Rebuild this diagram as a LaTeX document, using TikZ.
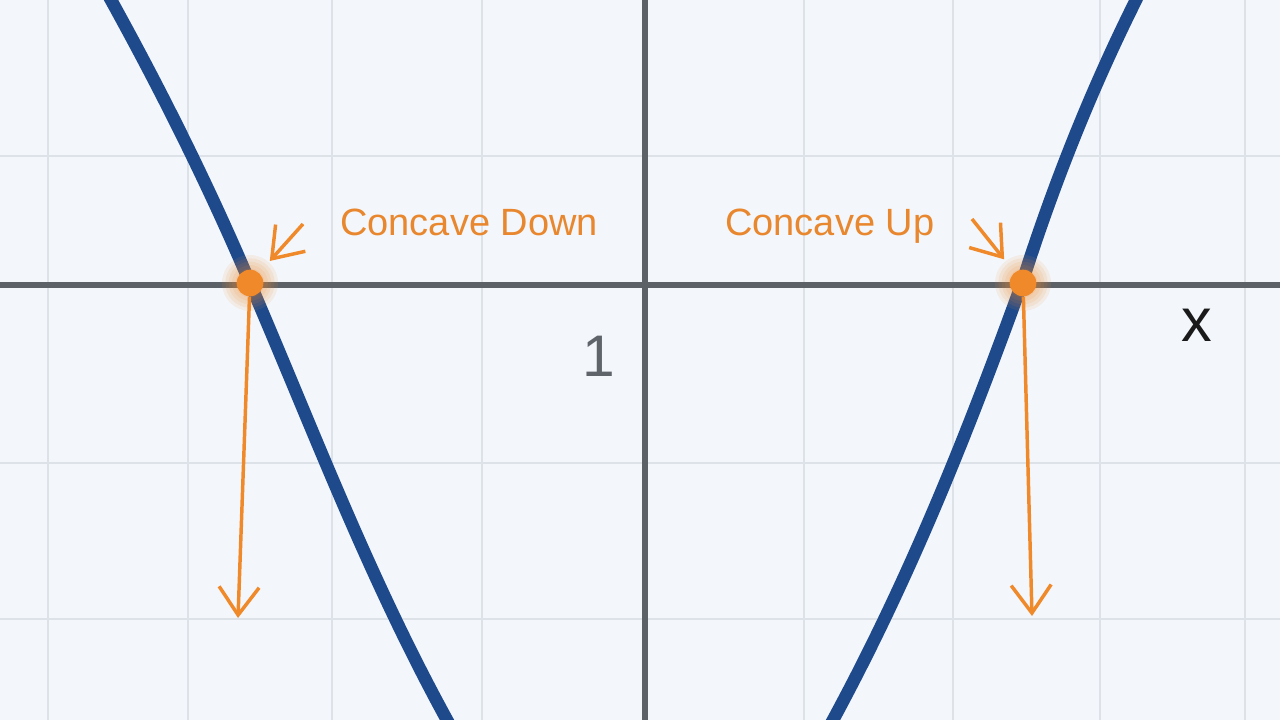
\documentclass[tikz,border=0pt]{standalone}
\usepackage{fontspec}
\setmainfont{Liberation Sans}
\usetikzlibrary{arrows.meta}
\definecolor{bg}{HTML}{F3F7FC}
\definecolor{gridc}{HTML}{DDE2E9}
\definecolor{axisc}{HTML}{5C6168}
\definecolor{curvec}{HTML}{1E4A8C}
\definecolor{orng}{HTML}{F0892A}
\definecolor{txtor}{HTML}{E8872E}
\definecolor{onec}{HTML}{5F646B}
\definecolor{xc}{HTML}{1A1A1A}
\begin{document}
\begin{tikzpicture}[x=0.75pt,y=-0.75pt,
  gridline/.style={draw=gridc,line width=2.2pt},
  axisline/.style={draw=axisc,line width=4pt},
  curveline/.style={draw=curvec,line width=9.5pt},
  dot/.style={circle,fill=orng,inner sep=0pt,minimum size=20pt},
  glow/.style={circle,fill=orng,fill opacity=0.10,inner sep=0pt},
  arr/.style={draw=orng,line width=2.6pt,-{Straight Barb[length=21pt,width=30pt]}},
  lbl/.style={text=txtor,font=\fontsize{28.5}{34}\selectfont,inner sep=0pt,anchor=base west}]
\useasboundingbox (0,0) rectangle (1280,720);
\fill[bg] (0,0) rectangle (1280,720);
\begin{scope}
\clip (0,0) rectangle (1280,720);
% grid
\foreach \gx in {48,188,332,482,804,953,1100,1245}
  \draw[gridline] (\gx,0) -- (\gx,720);
\foreach \gy in {156,463,619}
  \draw[gridline] (0,\gy) -- (1280,\gy);
% axes
\draw[axisline] (0,285) -- (1280,285);
\draw[axisline] (645,0) -- (645,720);
% curve
\draw[curveline] (105,-11) -- (111,0) .. controls (163,94) and (210,189) .. (250,283)
   .. controls (313,429) and (367,574) .. (447,720) -- (453,731);
\draw[curveline] (827,731) -- (833,720) .. controls (912,574) and (969,429) .. (1022,283)
   .. controls (1052,189) and (1089,94) .. (1136,0) -- (1141,-11);
\end{scope}
% glows
\foreach \s [count=\i] in {22,27,32,37,42}{
  \node[glow,minimum size=\s pt] (gL\i) at (250,283) {};
  \node[glow,minimum size=\s pt] (gR\i) at (1023,283) {};
}
% points
\node[dot] (pL) at (250,283) {};
\node[dot] (pR) at (1023,283) {};
% arrows
\coordinate (tL) at (303,224);
\coordinate (tR) at (972,219);
\coordinate (eL) at (238,618);
\coordinate (eR) at (1032,616);
\draw[arr] (pL) -- (eL);
\draw[arr] (pR) -- (eR);
\draw[arr,shorten >=12pt] (tL) -- (pL);
\draw[arr,shorten >=12.5pt] (tR) -- (pR);
% labels
\node[lbl] (lblD) at (340,236) {Concave Down};
\node[lbl] (lblU) at (725,236) {Concave Up};
\node[text=onec,font=\fontsize{44}{50}\selectfont,inner sep=0pt] (one) at (599,356) {1};
\node[text=xc,font=\fontsize{46}{52}\selectfont,inner sep=0pt] (xlab) at (1197,325) {x};
\end{tikzpicture}
\end{document}
